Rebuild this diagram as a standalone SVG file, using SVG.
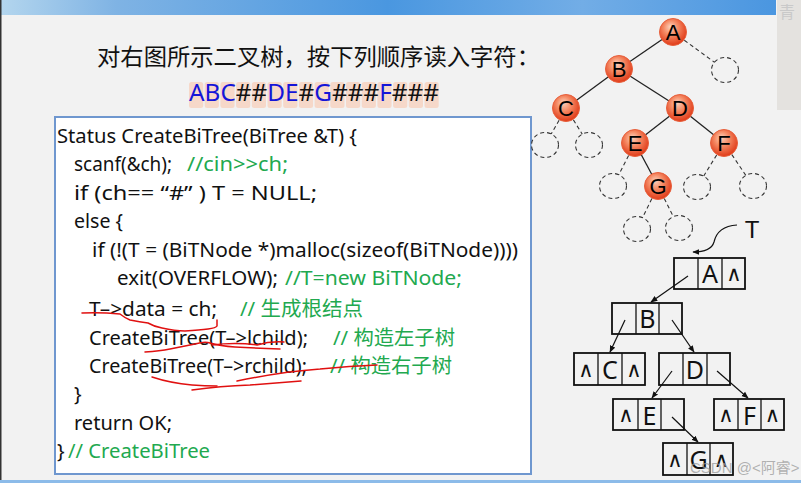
<svg xmlns="http://www.w3.org/2000/svg" width="801" height="483" viewBox="0 0 801 483">
<defs>
<linearGradient id="bar" x1="0" y1="0" x2="1" y2="0">
<stop offset="0" stop-color="#b4d6ee"/>
<stop offset="0.15" stop-color="#7fb3e4"/>
<stop offset="0.5" stop-color="#4a97e0"/>
<stop offset="0.75" stop-color="#72ade6"/>
<stop offset="1" stop-color="#4a96e0"/>
</linearGradient>
<radialGradient id="ball" cx="0.45" cy="0.4" r="0.6" fx="0.4" fy="0.3">
<stop offset="0" stop-color="#fcd2bd"/>
<stop offset="0.45" stop-color="#f58a64"/>
<stop offset="1" stop-color="#e03a18"/>
</radialGradient>
<marker id="ah" viewBox="0 0 10 10" refX="9" refY="5" markerWidth="7" markerHeight="7" orient="auto" markerUnits="userSpaceOnUse">
<path d="M0,1 L10,5 L0,9 z" fill="#111"/>
</marker>
<style>
.code{font-family:"Noto Sans","Noto Sans CJK SC",sans-serif;font-size:20px;fill:#111}
.cm{font-family:"Noto Sans","Noto Sans CJK SC",sans-serif;font-size:20px;fill:#22a94f}
.edge{stroke:#222;stroke-width:1.3;fill:none}
.dash{stroke:#333;stroke-width:1.1;stroke-dasharray:4 3;fill:none}
.nil{stroke:#333;stroke-width:1.1;stroke-dasharray:4 3;fill:#f2f2f2}
.ball{fill:url(#ball);stroke:#e8603c;stroke-width:1}
.bl{font-family:"Liberation Sans",Arial,sans-serif;font-size:22px;fill:#000;text-anchor:middle}
.box{fill:none;stroke:#111;stroke-width:1.8}
.cell{stroke:#111;stroke-width:1.3}
.bt{font-family:"Noto Sans","Liberation Sans",sans-serif;font-size:25px;fill:#111;text-anchor:middle}
.hat{font-family:"DejaVu Sans",sans-serif;font-size:21px;fill:#111;text-anchor:middle}
.ptr{stroke:#111;stroke-width:1.2;fill:none;marker-end:url(#ah)}
.red{stroke:#e01010;stroke-width:1.5;fill:none;stroke-linecap:round;stroke-linejoin:round}
.chbox{fill:#f6d8c9}
</style>
</defs>
<rect x="0" y="0" width="801" height="483" fill="#f2f2f2"/>
<rect x="0" y="0" width="776" height="15" fill="url(#bar)"/>
<rect x="777" y="0" width="24" height="110" fill="#e4e2df"/>
<text x="779" y="18" font-family="Noto Sans CJK SC,sans-serif" font-size="16" fill="#c9c9c9">青</text>
<rect x="0" y="0" width="1.5" height="483" fill="#333"/>
<rect x="0" y="480" width="801" height="3" fill="#8cbbe9"/>

<text x="97" y="65" font-family="Noto Sans CJK SC,sans-serif" font-size="23" fill="#111" textLength="443" lengthAdjust="spacingAndGlyphs">对右图所示二叉树，按下列顺序读入字符：</text>
<g id="seq">
<rect class="chbox" x="189" y="82" width="14.2" height="26" rx="2.5"/>
<rect class="chbox" x="204.7" y="82" width="14.2" height="26" rx="2.5"/>
<rect class="chbox" x="220.4" y="82" width="14.2" height="26" rx="2.5"/>
<rect class="chbox" x="236.1" y="82" width="14.2" height="26" rx="2.5"/>
<rect class="chbox" x="251.8" y="82" width="14.2" height="26" rx="2.5"/>
<rect class="chbox" x="267.5" y="82" width="14.2" height="26" rx="2.5"/>
<rect class="chbox" x="283.2" y="82" width="14.2" height="26" rx="2.5"/>
<rect class="chbox" x="298.9" y="82" width="14.2" height="26" rx="2.5"/>
<rect class="chbox" x="314.6" y="82" width="14.2" height="26" rx="2.5"/>
<rect class="chbox" x="330.3" y="82" width="14.2" height="26" rx="2.5"/>
<rect class="chbox" x="346" y="82" width="14.2" height="26" rx="2.5"/>
<rect class="chbox" x="361.7" y="82" width="14.2" height="26" rx="2.5"/>
<rect class="chbox" x="377.4" y="82" width="14.2" height="26" rx="2.5"/>
<rect class="chbox" x="393.1" y="82" width="14.2" height="26" rx="2.5"/>
<rect class="chbox" x="408.8" y="82" width="14.2" height="26" rx="2.5"/>
<rect class="chbox" x="424.5" y="82" width="14.2" height="26" rx="2.5"/>
<text x="189" y="101" font-family="Noto Sans,sans-serif" font-size="24" fill="#111" textLength="250" lengthAdjust="spacingAndGlyphs"><tspan fill="#1515d8">ABC</tspan>##<tspan fill="#1515d8">DE</tspan>#<tspan fill="#1515d8">G</tspan>###<tspan fill="#1515d8">F</tspan>###</text>
</g>

<g id="code">
<rect x="55" y="117" width="476" height="357" fill="#ffffff" stroke="#6f97cf" stroke-width="2"/>
<text class="code" x="57" y="143" textLength="300" lengthAdjust="spacingAndGlyphs">Status CreateBiTree(BiTree &amp;T) {</text>
<text class="code" x="74" y="171" textLength="98" lengthAdjust="spacingAndGlyphs">scanf(&amp;ch);</text>
<text class="cm" x="187" y="171" textLength="101" lengthAdjust="spacingAndGlyphs">//cin&gt;&gt;ch;</text>
<text class="code" x="74" y="200" textLength="243" lengthAdjust="spacingAndGlyphs">if (ch== “#” )  T = NULL;</text>
<text class="code" x="74" y="228" textLength="49" lengthAdjust="spacingAndGlyphs">else {</text>
<text class="code" x="92" y="257" textLength="426" lengthAdjust="spacingAndGlyphs">if (!(T = (BiTNode *)malloc(sizeof(BiTNode))))</text>
<text class="code" x="117" y="285" textLength="161" lengthAdjust="spacingAndGlyphs">exit(OVERFLOW);</text>
<text class="cm" x="285" y="285" textLength="177" lengthAdjust="spacingAndGlyphs">//T=new BiTNode;</text>
<text class="code" x="89" y="316" textLength="128" lengthAdjust="spacingAndGlyphs">T–&gt;data = ch;</text>
<text class="cm" x="240" y="316" textLength="123" lengthAdjust="spacingAndGlyphs">// 生成根结点</text>
<text class="code" x="89" y="345" textLength="219" lengthAdjust="spacingAndGlyphs">CreateBiTree(T–&gt;lchild);</text>
<text class="cm" x="333" y="345" textLength="122" lengthAdjust="spacingAndGlyphs">// 构造左子树</text>
<text class="code" x="89" y="373" textLength="218" lengthAdjust="spacingAndGlyphs">CreateBiTree(T–&gt;rchild);</text>
<text class="cm" x="330" y="373" textLength="122" lengthAdjust="spacingAndGlyphs">// 构造右子树</text>
<text class="code" x="74" y="401">}</text>
<text class="code" x="74" y="430" textLength="98" lengthAdjust="spacingAndGlyphs">return OK;</text>
<text class="code" x="57" y="458">}</text>
<text class="cm" x="68" y="458" textLength="142" lengthAdjust="spacingAndGlyphs">// CreateBiTree</text>
<path class="red" d="M82,313 Q100,312 120,314 Q125,318 130,320 Q140,322 148,323 Q155,327 162,328 Q175,331 185,331 Q200,330 208,329 Q216,328 217,326 L217,320"/>
<path class="red" d="M145,352 Q160,351 170,349 Q185,346 195,344 Q205,341 210,343 Q220,346 235,347 Q255,348 280,349"/>
<path class="red" d="M212,345 Q235,342 257,345 Q270,341 284,342"/>
<path class="red" d="M152,377 Q170,383 192,385 Q205,386 217,386"/>
<path class="red" d="M192,390 Q220,386 250,385 Q275,383 301,381"/>
<path class="red" d="M237,381 Q280,372 320,369 Q350,366 377,365"/>
</g>

<g id="tree-edges">
<line class="edge" x1="673" y1="32" x2="619" y2="69"/>
<line class="edge" x1="619" y1="69" x2="566" y2="108"/>
<line class="edge" x1="619" y1="69" x2="680" y2="108"/>
<line class="edge" x1="680" y1="108" x2="635" y2="143"/>
<line class="edge" x1="680" y1="108" x2="724" y2="143"/>
<line class="edge" x1="635" y1="143" x2="658" y2="186"/>
<line class="dash" x1="673" y1="32" x2="725" y2="70"/>
<line class="dash" x1="566" y1="108" x2="545" y2="145"/>
<line class="dash" x1="566" y1="108" x2="589" y2="145"/>
<line class="dash" x1="635" y1="143" x2="613" y2="186"/>
<line class="dash" x1="724" y1="143" x2="697" y2="187"/>
<line class="dash" x1="724" y1="143" x2="753" y2="186"/>
<line class="dash" x1="658" y1="186" x2="637" y2="229"/>
<line class="dash" x1="658" y1="186" x2="679" y2="228"/>
</g>
<g id="nil-nodes">
<ellipse class="nil" cx="725" cy="70" rx="13.5" ry="12.5"/>
<ellipse class="nil" cx="545" cy="145" rx="13.5" ry="12.5"/>
<ellipse class="nil" cx="589" cy="145" rx="13.5" ry="12.5"/>
<ellipse class="nil" cx="613" cy="186" rx="13.5" ry="12.5"/>
<ellipse class="nil" cx="697" cy="187" rx="13.5" ry="12.5"/>
<ellipse class="nil" cx="753" cy="186" rx="13.5" ry="12.5"/>
<ellipse class="nil" cx="637" cy="229" rx="13.5" ry="12.5"/>
<ellipse class="nil" cx="679" cy="228" rx="13.5" ry="12.5"/>
</g>
<g id="nA"><circle class="ball" cx="673" cy="32" r="13.5"/><text class="bl" x="673" y="40">A</text></g>
<g id="nB"><circle class="ball" cx="619" cy="69" r="13.5"/><text class="bl" x="619" y="77">B</text></g>
<g id="nC"><circle class="ball" cx="566" cy="108" r="13.5"/><text class="bl" x="566" y="116">C</text></g>
<g id="nD"><circle class="ball" cx="680" cy="108" r="13.5"/><text class="bl" x="680" y="116">D</text></g>
<g id="nE"><circle class="ball" cx="635" cy="143" r="13.5"/><text class="bl" x="635" y="151">E</text></g>
<g id="nF"><circle class="ball" cx="724" cy="143" r="13.5"/><text class="bl" x="724" y="151">F</text></g>
<g id="nG"><circle class="ball" cx="658" cy="186" r="13.5"/><text class="bl" x="658" y="194">G</text></g>

<g id="T-label">
<text x="752" y="238" font-family="Liberation Sans,Arial,sans-serif" font-size="24" fill="#111" text-anchor="middle">T</text>
</g>

<g id="lboxA"><rect class="box" x="674" y="258" width="71" height="31"/><line class="cell" x1="698" y1="258" x2="698" y2="289"/><line class="cell" x1="722" y1="258" x2="722" y2="289"/><text class="bt" x="710" y="283">A</text><text class="hat" x="734" y="281">∧</text></g>
<g id="lboxB"><rect class="box" x="612" y="303" width="70" height="31"/><line class="cell" x1="636" y1="303" x2="636" y2="334"/><line class="cell" x1="659" y1="303" x2="659" y2="334"/><text class="bt" x="647.5" y="328">B</text></g>
<g id="lboxC"><rect class="box" x="574" y="353" width="71" height="32"/><line class="cell" x1="598" y1="353" x2="598" y2="385"/><line class="cell" x1="622" y1="353" x2="622" y2="385"/><text class="hat" x="586" y="377">∧</text><text class="bt" x="610" y="379">C</text><text class="hat" x="634" y="377">∧</text></g>
<g id="lboxD"><rect class="box" x="659" y="353" width="71" height="32"/><line class="cell" x1="683" y1="353" x2="683" y2="385"/><line class="cell" x1="707" y1="353" x2="707" y2="385"/><text class="bt" x="695" y="379">D</text></g>
<g id="lboxE"><rect class="box" x="613" y="399" width="71" height="31"/><line class="cell" x1="638" y1="399" x2="638" y2="430"/><line class="cell" x1="661" y1="399" x2="661" y2="430"/><text class="hat" x="626" y="422">∧</text><text class="bt" x="649.5" y="425">E</text></g>
<g id="lboxF"><rect class="box" x="714" y="399" width="70" height="31"/><line class="cell" x1="738" y1="399" x2="738" y2="430"/><line class="cell" x1="761" y1="399" x2="761" y2="430"/><text class="hat" x="726" y="422">∧</text><text class="bt" x="749.5" y="425">F</text><text class="hat" x="772.5" y="422">∧</text></g>
<g id="lboxG"><rect class="box" x="663" y="443" width="70" height="32"/><line class="cell" x1="687" y1="443" x2="687" y2="475"/><line class="cell" x1="710" y1="443" x2="710" y2="475"/><text class="hat" x="675" y="467">∧</text><text class="bt" x="698.5" y="469">G</text><text class="hat" x="721.5" y="467">∧</text></g>

<g id="connectors">
<path class="ptr" d="M737,225 C722,226 716,233 714,242 C712,249 705,252 693,252"/>
<line class="ptr" x1="688" y1="276" x2="651" y2="302"/>
<line class="ptr" x1="625" y1="320" x2="610" y2="352"/>
<line class="ptr" x1="672" y1="320" x2="694" y2="352"/>
<line class="ptr" x1="672" y1="371" x2="652" y2="398"/>
<line class="ptr" x1="717" y1="371" x2="748" y2="398"/>
<line class="ptr" x1="672" y1="417" x2="698" y2="442"/>
</g>
<text x="690" y="473" font-family="Liberation Sans,Noto Sans CJK SC,sans-serif" font-size="15" fill="#9a9a9a" fill-opacity="0.75">CSDN @&lt;阿睿&gt;</text>
</svg>
